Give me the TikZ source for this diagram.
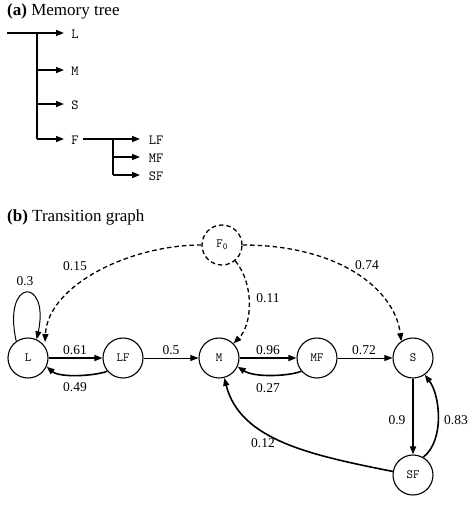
\documentclass[tikz,border=0pt]{standalone}
\usepackage{fontspec}
\setmainfont{Liberation Serif}
\usetikzlibrary{arrows.meta}
\begin{document}
\begin{tikzpicture}[x=1pt,y=-1pt,
  state/.style={circle,draw,line width=1.1pt,minimum size=40pt,inner sep=0pt,font=\fontsize{12.5}{13}\selectfont\ttfamily},
  tlab/.style={font=\fontsize{14}{15}\selectfont\ttfamily,inner sep=1pt},
  num/.style={font=\fontsize{13.5}{14}\selectfont,inner sep=1pt},
  ttl/.style={font=\fontsize{17}{18}\selectfont,inner sep=0pt,anchor=west},
  tip/.style={-{Triangle[length=8pt,width=6pt]}},
  thick1/.style={line width=1.6pt},
  thin1/.style={line width=1.0pt},
  dsh/.style={dash pattern=on 4.5pt off 3pt,line width=1.3pt}]
\useasboundingbox (0,0) rectangle (474,509);
% (a) memory tree
\node[ttl] (ta) at (7,11) {\textbf{(a)} Memory tree};
\node[tlab] (tL) at (75,34) {L};
\node[tlab] (tM) at (75,71) {M};
\node[tlab] (tS) at (75,105) {S};
\node[tlab] (tF) at (75,140) {F};
\node[tlab] (tLF) at (156,140) {LF};
\node[tlab] (tMF) at (156,158) {MF};
\node[tlab] (tSF) at (156,176) {SF};
\coordinate (r0) at (7,33);
\coordinate (rv) at (37,33);
\coordinate (rv2) at (37,139);
\begin{scope}[thick1]
\draw (r0) -- (rv);
\draw (rv) -- (rv2);
\draw[tip] (rv) -- (64,33);
\draw[tip] (37,70) -- (64,70);
\draw[tip] (37,104) -- (64,104);
\draw[tip] (rv2) -- (64,139);
\draw[tip] (83,139) -- (140,139);
\draw (113,139) -- (113,175);
\draw[tip] (113,157) -- (140,157);
\draw[tip] (113,175) -- (140,175);
\end{scope}
% (b) transition graph
\node[ttl] (tb) at (7,217) {\textbf{(b)} Transition graph};
\node[state] (L) at (28,358) {L};
\node[state] (LF) at (123,358) {LF};
\node[state] (M) at (219,358) {M};
\node[state] (MF) at (317,358) {MF};
\node[state] (S) at (413,358) {S};
\node[state] (SF) at (413,475) {SF};
\node[state,dsh,draw] (F0) at (222,245) {F\raisebox{-0.35ex}{\fontsize{9}{9}\selectfont 0}};
% self loop
\draw[thin1,tip] (L.125) .. controls (2,277) and (50,277) .. (L.65);
\node[num] (n03) at (25,281) {0.3};
% dashed
\coordinate (Lin) at (45,342);
\draw[dsh,tip] (F0.west) .. controls (130,245) and (48,285) .. (Lin);
\node[num] (n015) at (75,266) {0.15};
\draw[dsh,tip] (F0.-50) .. controls (255,285) and (252,325) .. (M.45);
\node[num] (n011) at (268,298) {0.11};
\draw[dsh,tip] (F0.east) .. controls (340,245) and (395,290) .. (S.125);
\node[num] (n074) at (367,265) {0.74};
% straight
\draw[thick1,tip] (L) -- (LF);
\node[num] (n061) at (75,350) {0.61};
\draw[thin1,tip] (LF) -- (M);
\node[num] (n05) at (171,350) {0.5};
\draw[thick1,tip] (M) -- (MF);
\node[num] (n096) at (268,350) {0.96};
\draw[thin1,tip] (MF) -- (S);
\node[num] (n072) at (364,350) {0.72};
\draw[thick1,tip] (S) -- (SF);
\node[num] (n09) at (397,420) {0.9};
% back curves
\draw[thick1,tip] (LF.220) .. controls (95,376) and (60,378) .. (L.-25);
\node[num] (n049) at (75,387) {0.49};
\draw[thick1,tip] (MF.220) .. controls (290,376) and (255,378) .. (M.-25);
\node[num] (n027) at (268,388) {0.27};
\draw[thick1,tip] (SF.60) .. controls (445,440) and (440,395) .. (S.-55);
\node[num] (n083) at (456,420) {0.83};
\draw[thick1,tip] (SF.170) .. controls (310,455) and (240,440) .. (M.-75);
\node[num] (n012) at (263,443) {0.12};
\end{tikzpicture}
\end{document}
